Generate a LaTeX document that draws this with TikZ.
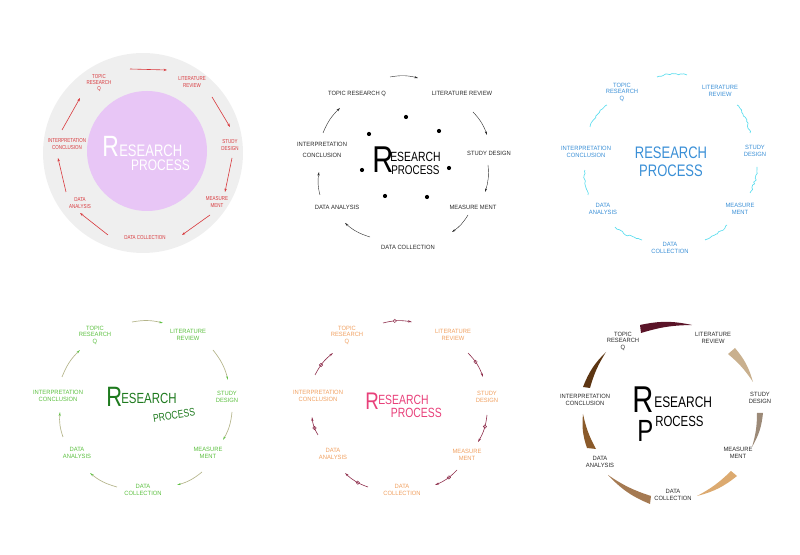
\documentclass[tikz,border=0pt]{standalone}
\usepackage{fontspec}
\setmainfont{Liberation Sans}
\newfontfamily\lblfont[FakeStretch=0.95]{Liberation Sans}
\newfontfamily\lblnarrow[FakeStretch=0.78]{Liberation Sans}
\newfontfamily\ttlfont[FakeStretch=0.78]{Liberation Sans}
\usetikzlibrary{arrows.meta,decorations.pathmorphing}

\definecolor{wonegray}{HTML}{EFEFEF}
\definecolor{wonepink}{HTML}{E8C6F6}
\definecolor{wonered}{HTML}{D8383C}
\definecolor{wtwoink}{HTML}{2A2A2A}
\definecolor{wthreeblue}{HTML}{3A8FD6}
\definecolor{wthreecyan}{HTML}{5CDDEE}
\definecolor{wfourgreen}{HTML}{5CC040}
\definecolor{wfourdark}{HTML}{1E7A1E}
\definecolor{wfourolive}{HTML}{B4B48A}
\definecolor{wfiveorange}{HTML}{F0A060}
\definecolor{wfivepink}{HTML}{E8407A}
\definecolor{wfivered}{HTML}{8E2E4C}
\definecolor{wsixa}{HTML}{5A1428}
\definecolor{wsixb}{HTML}{C9B08E}
\definecolor{wsixc}{HTML}{9C8A78}
\definecolor{wsixd}{HTML}{DCAA70}
\definecolor{wsixe}{HTML}{A57A52}
\definecolor{wsixf}{HTML}{8A5A2A}
\definecolor{wsixg}{HTML}{5C3512}

\pgfmathsetseed{7}

\begin{document}
\begin{tikzpicture}[x=0.75pt,y=0.75pt,yscale=-1,xscale=1,
  lbl/.style={font=\lblfont\fontsize{4.6}{4.9}\selectfont,align=center,inner sep=0.75pt},
  lblone/.style={font=\lblnarrow\fontsize{4.3}{4.6}\selectfont,align=center,inner sep=0.75pt,text=wonered},
  ttl/.style={inner sep=0pt,font=\ttlfont\fontsize{#1}{#1}\selectfont},
  redarrow/.style={draw=wonered,line width=0.45pt,-{Stealth[length=2.6pt,width=1.8pt]}},
  inkarc/.style={draw=wtwoink,line width=0.3pt,-{Stealth[length=2.8pt,width=1.6pt]}},
  wavy/.style={draw=wthreecyan,line width=0.5pt,decorate,decoration={random steps,segment length=1.6pt,amplitude=0.7pt}},
  leafarc/.style={draw=wfourolive,line width=0.5pt,-{Stealth[length=3pt,width=1.5pt,color=wfourgreen]}},
  loopmark/.style={circle,draw=wfivered,line width=0.35pt,inner sep=0pt,minimum size=2.6pt},
  loparc/.style={draw=wfivered,line width=0.45pt,-{Stealth[length=3pt,width=1.6pt]}}]
\useasboundingbox (0,0) rectangle (800,555);

%%%%%%%% wheel 1 : grey disc, lilac core
\fill[wonegray] (143,153) circle (100);
\fill[wonepink] (147,151) circle (60);
% Text Node
\node[ttl=22,text=white,anchor=base west] (w1R) at (102,157) {R};
\node[ttl=12.5,text=white,anchor=base west] (w1esearch) at (w1R.base east) {ESEARCH};
\node[ttl=11.5,text=white,anchor=base east] (w1process) at (190,171) {PROCESS};
% Text Node
\node[lblone] (w1top) at (99,83) {TOPIC\\RESEARCH\\Q};
\node[lblone] (w1lit) at (192,82) {LITERATURE\\REVIEW};
\node[lblone] (w1stu) at (230,145) {STUDY\\DESIGN};
\node[lblone] (w1mea) at (217,202) {MEASURE\\MENT};
\node[lblone] (w1col) at (145,238) {DATA COLLECTION};
\node[lblone] (w1ana) at (80,203) {DATA\\ANALYSIS};
\node[lblone] (w1int) at (67,144) {INTERPRETATION\\CONCLUSION};
% arrows
\path (130,69) coordinate (w1a1) (167,70) coordinate (w1b1)
      (212,97) coordinate (w1a2) (230,127) coordinate (w1b2)
      (232,158) coordinate (w1a3) (225,192) coordinate (w1b3)
      (210,215) coordinate (w1a4) (182,235) coordinate (w1b4)
      (108,235) coordinate (w1a5) (80,213) coordinate (w1b5)
      (66,192) coordinate (w1a6) (58,158) coordinate (w1b6)
      (62,130) coordinate (w1a7) (80,98) coordinate (w1b7);
\draw[redarrow] (w1a1) -- (w1b1);
\draw[redarrow] (w1a2) -- (w1b2);
\draw[redarrow] (w1a3) -- (w1b3);
\draw[redarrow] (w1a4) -- (w1b4);
\draw[redarrow] (w1a5) -- (w1b5);
\draw[redarrow] (w1a6) -- (w1b6);
\draw[redarrow] (w1a7) -- (w1b7);

%%%%%%%% wheel 2 : black, dots
% Text Node
\node[ttl=28,text=black,anchor=base west] (w2R) at (372,173) {R};
\node[ttl=10,text=black,anchor=base west] (w2esearch) at (390,162) {ESEARCH};
\node[ttl=9.5,text=black,anchor=base west] (w2process) at (391,175) {PROCESS};
% Text Node
\node[lbl,text=wtwoink] (w2top) at (357,94) {TOPIC RESEARCH Q};
\node[lbl,text=wtwoink] (w2lit) at (462,93) {LITERATURE REVIEW};
\node[lbl,text=wtwoink] (w2stu) at (489,153) {STUDY DESIGN};
\node[lbl,text=wtwoink] (w2mea) at (473,207) {MEASURE MENT};
\node[lbl,text=wtwoink] (w2col) at (408,247) {DATA COLLECTION};
\node[lbl,text=wtwoink] (w2ana) at (337,207) {DATA ANALYSIS};
\node[lbl,text=wtwoink,font=\lblfont\fontsize{4.6}{8.2}\selectfont] (w2int) at (322,150) {INTERPRETATION\\CONCLUSION};
% dots
\foreach \p in {(406,117),(439,131),(449,168),(427,197),(385,196),(362,170),(369,134)}
  \fill \p circle (2.1);
% arcs
\path (390,77) coordinate (w2a1) (418,78) coordinate (w2b1)
      (473,112) coordinate (w2a2) (487,135) coordinate (w2b2)
      (488,165) coordinate (w2a3) (485,192) coordinate (w2b3)
      (468,215) coordinate (w2a4) (452,232) coordinate (w2b4)
      (370,237) coordinate (w2a5) (345,223) coordinate (w2b5)
      (320,195) coordinate (w2a6) (319,172) coordinate (w2b6)
      (323,133) coordinate (w2a7) (340,108) coordinate (w2b7);
\draw[inkarc] (w2a1) to[bend right=12] (w2b1);
\draw[inkarc] (w2a2) to[bend right=12] (w2b2);
\draw[inkarc] (w2a3) to[bend right=12] (w2b3);
\draw[inkarc] (w2a4) to[bend right=12] (w2b4);
\draw[inkarc] (w2a5) to[bend right=12] (w2b5);
\draw[inkarc] (w2a6) to[bend right=12] (w2b6);
\draw[inkarc] (w2a7) to[bend right=12] (w2b7);

%%%%%%%% wheel 3 : blue, wavy cyan
% Text Node
\node[ttl=12.5,text=wthreeblue,anchor=base] (w3research) at (671,159) {RESEARCH};
\node[ttl=12.5,text=wthreeblue,anchor=base] (w3process) at (671,177) {PROCESS};
% Text Node
\node[lbl,text=wthreeblue] (w3top) at (622,92) {TOPIC\\RESEARCH\\Q};
\node[lbl,text=wthreeblue] (w3lit) at (720,91) {LITERATURE\\REVIEW};
\node[lbl,text=wthreeblue] (w3stu) at (755,151) {STUDY\\DESIGN};
\node[lbl,text=wthreeblue] (w3mea) at (740,209) {MEASURE\\MENT};
\node[lbl,text=wthreeblue] (w3col) at (670,248) {DATA\\COLLECTION};
\node[lbl,text=wthreeblue] (w3ana) at (603,209) {DATA\\ANALYSIS};
\node[lbl,text=wthreeblue] (w3int) at (586,152) {INTERPRETATION\\CONCLUSION};
% arcs
\path (657,77) coordinate (w3a1) (687,75) coordinate (w3b1)
      (737,105) coordinate (w3a2) (750,133) coordinate (w3b2)
      (757,167) coordinate (w3a3) (750,193) coordinate (w3b3)
      (727,225) coordinate (w3a4) (705,240) coordinate (w3b4)
      (642,240) coordinate (w3a5) (615,227) coordinate (w3b5)
      (588,195) coordinate (w3a6) (585,170) coordinate (w3b6)
      (590,127) coordinate (w3a7) (607,105) coordinate (w3b7);
\draw[wavy] (w3a1) to[bend right=12] (w3b1);
\draw[wavy] (w3a2) to[bend right=12] (w3b2);
\draw[wavy] (w3a3) to[bend right=12] (w3b3);
\draw[wavy] (w3a4) to[bend right=12] (w3b4);
\draw[wavy] (w3a5) to[bend right=12] (w3b5);
\draw[wavy] (w3a6) to[bend right=12] (w3b6);
\draw[wavy] (w3a7) to[bend right=12] (w3b7);

%%%%%%%% wheel 4 : green
% Text Node
\node[ttl=21,text=wfourdark,anchor=base west] (w4R) at (106,407) {R};
\node[ttl=11,text=wfourdark,anchor=base west] (w4esearch) at (121,404) {ESEARCH};
\node[ttl=8.3,text=wfourdark,rotate=9] (w4process) at (174,415) {PROCESS};
% Text Node
\node[lbl,text=wfourgreen] (w4top) at (95,335) {TOPIC\\RESEARCH\\Q};
\node[lbl,text=wfourgreen] (w4lit) at (188,335) {LITERATURE\\REVIEW};
\node[lbl,text=wfourgreen] (w4stu) at (227,397) {STUDY\\DESIGN};
\node[lbl,text=wfourgreen] (w4mea) at (208,453) {MEASURE\\MENT};
\node[lbl,text=wfourgreen] (w4col) at (143,490) {DATA\\COLLECTION};
\node[lbl,text=wfourgreen] (w4ana) at (77,453) {DATA\\ANALYSIS};
\node[lbl,text=wfourgreen] (w4int) at (58,396) {INTERPRETATION\\CONCLUSION};
% arcs
\path (132,322) coordinate (w4a1) (163,323) coordinate (w4b1)
      (213,350) coordinate (w4a2) (228,380) coordinate (w4b2)
      (232,412) coordinate (w4a3) (223,440) coordinate (w4b3)
      (202,472) coordinate (w4a4) (177,485) coordinate (w4b4)
      (117,487) coordinate (w4a5) (90,473) coordinate (w4b5)
      (63,437) coordinate (w4a6) (60,412) coordinate (w4b6)
      (62,377) coordinate (w4a7) (80,350) coordinate (w4b7);
\draw[leafarc] (w4a1) to[bend right=12] (w4b1);
\draw[leafarc] (w4a2) to[bend right=12] (w4b2);
\draw[leafarc] (w4a3) to[bend right=12] (w4b3);
\draw[leafarc] (w4a4) to[bend right=12] (w4b4);
\draw[leafarc] (w4a5) to[bend right=12] (w4b5);
\draw[leafarc] (w4a6) to[bend right=12] (w4b6);
\draw[leafarc] (w4a7) to[bend right=12] (w4b7);

%%%%%%%% wheel 5 : orange, looped arrows
% Text Node
\node[ttl=18,text=wfivepink,anchor=base west] (w5R) at (365,410) {R};
\node[ttl=10,text=wfivepink,anchor=base west] (w5esearch) at (378,405) {ESEARCH};
\node[ttl=10,text=wfivepink,anchor=base east] (w5process) at (442,418) {PROCESS};
% Text Node
\node[lbl,text=wfiveorange] (w5top) at (347,335) {TOPIC\\RESEARCH\\Q};
\node[lbl,text=wfiveorange] (w5lit) at (453,335) {LITERATURE\\REVIEW};
\node[lbl,text=wfiveorange] (w5stu) at (487,397) {STUDY\\DESIGN};
\node[lbl,text=wfiveorange] (w5mea) at (467,455) {MEASURE\\MENT};
\node[lbl,text=wfiveorange] (w5col) at (402,490) {DATA\\COLLECTION};
\node[lbl,text=wfiveorange] (w5ana) at (333,454) {DATA\\ANALYSIS};
\node[lbl,text=wfiveorange] (w5int) at (318,396) {INTERPRETATION\\CONCLUSION};
% arcs
\path (383,323) coordinate (w5a1) (412,322) coordinate (w5b1)
      (468,353) coordinate (w5a2) (483,377) coordinate (w5b2)
      (487,415) coordinate (w5a3) (478,442) coordinate (w5b3)
      (457,470) coordinate (w5a4) (435,485) coordinate (w5b4)
      (368,487) coordinate (w5a5) (345,473) coordinate (w5b5)
      (318,435) coordinate (w5a6) (312,417) coordinate (w5b6)
      (315,375) coordinate (w5a7) (333,353) coordinate (w5b7);
\draw[loparc] (w5a1) to[bend right=12] node[loopmark,pos=0.4]{} (w5b1);
\draw[loparc] (w5a2) to[bend right=12] node[loopmark,pos=0.4]{} (w5b2);
\draw[loparc] (w5a3) to[bend right=12] node[loopmark,pos=0.4]{} (w5b3);
\draw[loparc] (w5a4) to[bend right=12] node[loopmark,pos=0.4]{} (w5b4);
\draw[loparc] (w5a5) to[bend right=12] node[loopmark,pos=0.4]{} (w5b5);
\draw[loparc] (w5a6) to[bend right=12] node[loopmark,pos=0.4]{} (w5b6);
\draw[loparc] (w5a7) to[bend right=12] node[loopmark,pos=0.4]{} (w5b7);

%%%%%%%% wheel 6 : brown tapering strokes
% Text Node
\node[ttl=28,text=black,anchor=base west] (w6R) at (632,413) {R};
\node[ttl=11.5,text=black,anchor=base west] (w6esearch) at (654,408) {ESEARCH};
\node[ttl=23,text=black,anchor=base west] (w6P) at (637,442) {P};
\node[ttl=11,text=black,anchor=base west] (w6rocess) at (655,427) {ROCESS};
% Text Node
\node[lbl,text=wtwoink] (w6top) at (623,341) {TOPIC\\RESEARCH\\Q};
\node[lbl,text=wtwoink] (w6lit) at (713,338) {LITERATURE\\REVIEW};
\node[lbl,text=wtwoink] (w6stu) at (760,398) {STUDY\\DESIGN};
\node[lbl,text=wtwoink] (w6mea) at (738,453) {MEASURE\\MENT};
\node[lbl,text=wtwoink] (w6col) at (673,495) {DATA\\COLLECTION};
\node[lbl,text=wtwoink] (w6ana) at (600,462) {DATA\\ANALYSIS};
\node[lbl,text=wtwoink] (w6int) at (585,400) {INTERPRETATION\\CONCLUSION};
% strokes: outer start, inner start, tip
\path (640,325) coordinate (w6o1) (641,333) coordinate (w6i1) (692,325) coordinate (w6e1)
      (735,348) coordinate (w6o2) (728,354) coordinate (w6i2) (753,382) coordinate (w6e2)
      (763,413) coordinate (w6o3) (757,413) coordinate (w6i3) (752,447) coordinate (w6e3)
      (737,476) coordinate (w6o4) (731,471) coordinate (w6i4) (697,496) coordinate (w6e4)
      (650,504) coordinate (w6o5) (651,496) coordinate (w6i5) (608,475) coordinate (w6e5)
      (587,448) coordinate (w6o6) (596,449) coordinate (w6i6) (583,414) coordinate (w6e6)
      (583,387) coordinate (w6o7) (590,388) coordinate (w6i7) (606,352) coordinate (w6e7);
\fill[wsixa] (w6o1) to[bend right=12] (w6e1) to[bend left=8] (w6i1) -- cycle;
\fill[wsixb] (w6o2) to[bend right=12] (w6e2) to[bend left=8] (w6i2) -- cycle;
\fill[wsixc] (w6o3) to[bend right=12] (w6e3) to[bend left=8] (w6i3) -- cycle;
\fill[wsixd] (w6o4) to[bend right=12] (w6e4) to[bend left=8] (w6i4) -- cycle;
\fill[wsixe] (w6o5) to[bend right=12] (w6e5) to[bend left=8] (w6i5) -- cycle;
\fill[wsixf] (w6o6) to[bend right=12] (w6e6) to[bend left=8] (w6i6) -- cycle;
\fill[wsixg] (w6o7) to[bend right=12] (w6e7) to[bend left=8] (w6i7) -- cycle;

\end{tikzpicture}
\end{document}
